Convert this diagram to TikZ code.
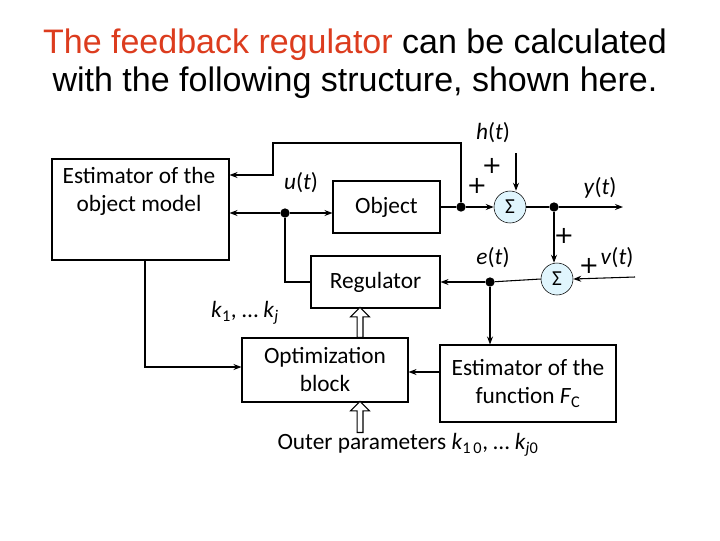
\documentclass[tikz,border=0pt]{standalone}
\usepackage{fontspec}
\setmainfont{Carlito}
\newfontfamily\titlefont{Liberation Sans}
\newfontfamily\plusfont{DejaVu Sans}[Scale=0.9]
\newcommand{\vi}[1]{\textit{#1}}
\usetikzlibrary{arrows.meta,shapes.arrows}
\tikzset{
  blk/.style={draw, thick, inner sep=0pt},
  sum/.style={circle, draw, fill=cyan!12, minimum size=32*0.75pt, inner sep=0pt, font=\fontsize{16}{16}\selectfont},
  arr/.style={thick, -{Stealth[length=6pt]}},
  ln/.style={thick},
  dot/.style={circle, fill, inner sep=0pt, minimum size=7pt},
  hollow/.style={single arrow, draw, thick, fill=white, minimum width=14pt, single arrow head extend=3pt, single arrow tip angle=90, inner sep=1pt, shape border rotate=90, minimum height=#1},
  lbl/.style={font=\fontsize{17.5}{21}\selectfont},
  pl/.style={font=\plusfont\fontsize{20}{20}\selectfont, inner sep=0pt}
}
\begin{document}
\begin{tikzpicture}[x=0.75pt,y=-0.75pt]
\useasboundingbox (0,0) rectangle (720,540);
% title
\node[font=\titlefont\fontsize{25.5}{28.5}\selectfont, align=center] (title) at (355,64)
  {\textcolor[RGB]{220,60,30}{The feedback regulator} can be calculated\\with the following structure, shown here.};
% blocks
\node[blk, minimum width=177*0.75pt, minimum height=101*0.75pt] (est) at (140.5,209.5) {};
\node[lbl, align=center] (esttxt) at (139,191) {Estimator of the\\object model};
\node[blk, minimum width=107*0.75pt, minimum height=52*0.75pt, lbl] (obj) at (386.5,207) {Object};
\node[blk, minimum width=129*0.75pt, minimum height=52*0.75pt, lbl] (reg) at (375.5,282) {Regulator};
\node[blk, minimum width=166*0.75pt, minimum height=64*0.75pt, lbl, align=center] (opt) at (325,370) {Optimization\\block};
\node[blk, minimum width=176*0.75pt, minimum height=77*0.75pt, lbl, align=center] (estf) at (528,383.5) {Estimator of the\\function \vi{F}\textsubscript{C}};
\node[sum] (s1) at (510,207) {Σ};
\node[sum] (s2) at (557,279) {Σ};
% junction points
\node[dot] (du) at (285,213) {};
\node[dot] (dy0) at (461,207) {};
\node[dot] (dy) at (554,207) {};
\node[dot] (de) at (490,282) {};
\coordinate (yend) at (623,207);
\coordinate (vstart) at (635,277);
\coordinate (hstart) at (516,153);
% connectors
\draw[arr] (du) -- (du -| obj.west);
\draw[arr] (du) -- (du -| est.east);
\draw[ln] (obj.east |- dy0) -- (dy0);
\draw[arr] (dy0) -- (s1.west);
\draw[arr] (dy0) -- (461,143) -- (273,143) -- (273,175) -- (est.east |- 0,175);
\draw[ln] (s1.east) -- (dy);
\draw[arr] (dy) -- (yend);
\draw[arr] (dy) -- (s2.north -| dy);
\draw[arr] (hstart) -- (s1.north -| hstart);
\draw[arr] (vstart) -- (s2.east);
\draw[ln] (s2.west) -- (de);
\draw[arr] (de) -- (reg.east);
\draw[arr] (de) -- (de |- estf.north);
\draw[ln] (du) -- (285,282) -- (reg.west);
\draw[arr] (145,260) -- (145,367) -- (opt.west |- 0,367);
\draw[arr] (estf.west |- 0,372) -- (opt.east |- 0,372);
\node[hollow=30*0.75pt, anchor=tail] (h1) at (360,338) {};
\node[hollow=31*0.75pt, anchor=tail] (h2) at (360,433) {};
% labels
\node[lbl] (lh) at (493,133) {\vi{h}(\vi{t})};
\node[lbl] (lu) at (301,183) {\vi{u}(\vi{t})};
\node[lbl] (ly) at (600,188) {\vi{y}(\vi{t})};
\node[lbl] (le) at (493,258) {\vi{e}(\vi{t})};
\node[lbl] (lv) at (617,258) {\vi{v}(\vi{t})};
\node[lbl] (lk) at (245,313) {\vi{k}\textsubscript{1}, … \vi{k}\textsubscript{\vi{j}}};
\node[lbl] (lo) at (408,445) {Outer parameters \vi{k}\textsubscript{1\,0}, … \vi{k}\textsubscript{\vi{j}0}};
\node[pl] (p1) at (492,166) {+};
\node[pl] (p2) at (477,186) {+};
\node[pl] (p3) at (564,236) {+};
\node[pl] (p4) at (589,266) {+};
\end{tikzpicture}
\end{document}
